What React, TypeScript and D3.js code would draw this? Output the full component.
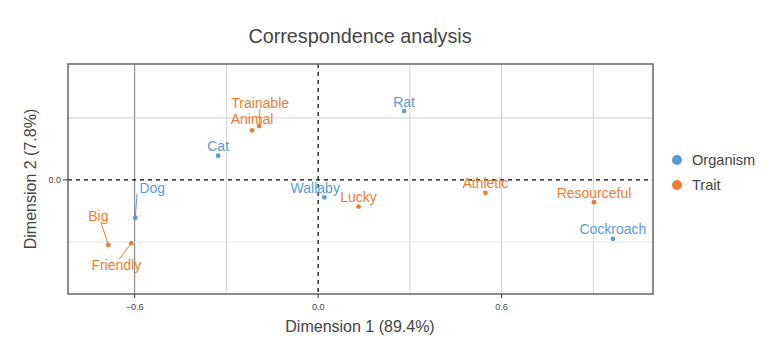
import * as d3 from 'd3';

// CA coordinates
const names = ['Rat', 'Trainable', 'Animal', 'Cat', 'Dog', 'Big', 'Friendly', 'Wallaby', 'Lucky', 'Athletic', 'Resourceful', 'Cockroach'];
const groups = ['Organism', 'Trait', 'Trait', 'Organism', 'Organism', 'Trait', 'Trait', 'Organism', 'Trait', 'Trait', 'Trait', 'Organism'];
const dim1 = [0.281, -0.193, -0.216, -0.327, -0.598, -0.686, -0.611, 0.02, 0.132, 0.547, 0.902, 0.964];
const dim2 = [0.111, 0.087, 0.08, 0.039, -0.061, -0.105, -0.102, -0.028, -0.043, -0.021, -0.036, -0.095];

const legendLabels = ['Organism', 'Trait'];
const xTicks = [-0.6, 0, 0.6];
const xMinor = [-0.3, 0.3, 0.9];
const yTicks = [0];
const yMinor = [-0.1, 0.1];

// repelled label offsets (px) and which labels get a segment
const labelShift: Record<string, [number, number, boolean]> = {
  Trainable: [1, -23, true],
  Animal: [0, -11, false],
  Dog: [17, -30, true],
  Big: [-10, -29, true],
  Friendly: [-15, 22, true],
  Wallaby: [-9, -9, false],
};

const colors: Record<string, string> = { Organism: '#5b9bd5', Trait: '#ed7d31' };
const font = 'Liberation Sans, Arial, sans-serif';

export default function App() {
  const width = 780;
  const height = 352;
  const panel = { left: 68, right: 653, top: 64, bottom: 294 };

  const x = d3.scaleLinear().domain([-0.818, 1.095]).range([panel.left, panel.right]);
  const y = d3.scaleLinear().domain([-0.184, 0.187]).range([panel.bottom, panel.top]);

  const pts = names.map((n, i) => ({ name: n, group: groups[i], px: x(dim1[i]), py: y(dim2[i]) }));

  return (
    <svg width={width} height={height} style={{ position: 'absolute', left: 0, top: 0, background: '#fff' }} fontFamily={font}>
      {/* grid */}
      {xMinor.map((t) => (
        <line key={'xm' + t} x1={x(t)} x2={x(t)} y1={panel.top} y2={panel.bottom} stroke="#d4d4d4" strokeWidth={1} />
      ))}
      {xTicks.filter((t) => t !== 0).map((t) => (
        <line key={'xg' + t} x1={x(t)} x2={x(t)} y1={panel.top} y2={panel.bottom} stroke={t < 0 ? '#777' : '#cfcfcf'} strokeWidth={1} />
      ))}
      {yMinor.map((t) => (
        <line key={'ym' + t} x1={panel.left} x2={panel.right} y1={y(t)} y2={y(t)} stroke={t > 0 ? '#cfcfcf' : '#e6e6e6'} strokeWidth={1} />
      ))}
      {/* origin lines */}
      <line x1={x(0)} x2={x(0)} y1={panel.top} y2={panel.bottom} stroke="#000" strokeWidth={1.2} strokeDasharray="4,4" />
      <line x1={panel.left} x2={panel.right} y1={y(0)} y2={y(0)} stroke="#000" strokeWidth={1.2} strokeDasharray="4,4" />

      {/* panel border */}
      <rect x={panel.left} y={panel.top} width={panel.right - panel.left} height={panel.bottom - panel.top} fill="none" stroke="#6e6e6e" strokeWidth={1.6} />

      {/* x axis */}
      {xTicks.map((t) => (
        <g key={'xt' + t}>
          <line x1={x(t)} x2={x(t)} y1={panel.bottom} y2={panel.bottom + 4} stroke="#333" strokeWidth={1} />
          <text x={x(t)} y={panel.bottom + 16} textAnchor="middle" fontSize={9} fill="#444">
            {d3.format('.1f')(t)}
          </text>
        </g>
      ))}
      {/* y axis */}
      {yTicks.map((t) => (
        <g key={'yt' + t}>
          <line x1={panel.left - 5} x2={panel.left} y1={y(t)} y2={y(t)} stroke="#333" strokeWidth={1} />
          <text x={panel.left - 7} y={y(t) + 3} textAnchor="end" fontSize={9} fill="#444">
            {d3.format('.1f')(t)}
          </text>
        </g>
      ))}

      {/* segments */}
      {pts.map((p) => {
        const s = labelShift[p.name];
        if (!s || !s[2]) return null;
        const lx = p.px + s[0];
        const ly = p.py + s[1];
        const ey = s[1] < 0 ? ly + 6 : ly - 6;
        const ex = s[1] < 0 ? lx - s[0] * 0.25 + (p.name === 'Dog' ? -11 : 0) : lx + 3;
        return <line key={'seg' + p.name} x1={p.px} y1={p.py} x2={ex} y2={ey} stroke={colors[p.group]} strokeWidth={1} />;
      })}

      {/* points */}
      {pts.map((p) => (
        <circle key={'pt' + p.name} cx={p.px} cy={p.py} r={2.4} fill={colors[p.group]} />
      ))}

      {/* labels */}
      {pts.map((p) => {
        const s = labelShift[p.name] || [0, -9.5, false];
        return (
          <text key={'lb' + p.name} x={p.px + s[0]} y={p.py + s[1] + 5} textAnchor="middle" fontSize={14} fill={colors[p.group]}>
            {p.name}
          </text>
        );
      })}

      {/* titles */}
      <text x={360} y={43} textAnchor="middle" fontSize={19.8} fill="#444">
        Correspondence analysis
      </text>
      <text x={360} y={332} textAnchor="middle" fontSize={16} fill="#444">
        Dimension 1 (89.4%)
      </text>
      <text transform={`translate(36,${(panel.top + panel.bottom) / 2}) rotate(-90)`} textAnchor="middle" fontSize={16} fill="#444">
        Dimension 2 (7.8%)
      </text>

      {/* legend */}
      {legendLabels.map((l, i) => (
        <g key={'lg' + l} transform={`translate(677,${160 + i * 25})`}>
          <circle r={5} fill={colors[l]} />
          <text x={15} y={5} fontSize={14.6} fill="#444">
            {l}
          </text>
        </g>
      ))}
    </svg>
  );
}
